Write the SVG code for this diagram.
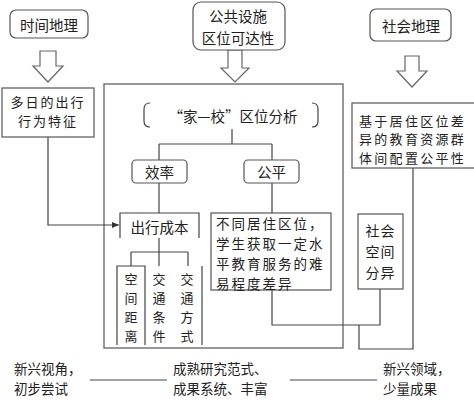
<svg xmlns="http://www.w3.org/2000/svg" width="474" height="404" viewBox="0 0 474 404">
<style>
.t{font-family:"Noto Sans CJK SC","Noto Sans CJK JP",sans-serif;font-size:14.5px;fill:#222;dominant-baseline:central}
.c{text-anchor:middle}
.s{font-size:13.5px;letter-spacing:2px}
.v{font-size:13px}
.b{fill:#fff;stroke:#555;stroke-width:1.2}
.l{fill:none;stroke:#444;stroke-width:1.2}
.ha{fill:#fff;stroke:#666;stroke-width:1.2}
</style>
<defs>
<marker id="ar" viewBox="0 0 8 8" refX="8" refY="4" markerWidth="7" markerHeight="7" orient="auto" markerUnits="userSpaceOnUse">
<path d="M0,0.5 L8,4 L0,7.5 Z" fill="#333"/>
</marker>
</defs>
<rect x="0" y="0" width="474" height="404" fill="#fff"/>

<g id="main-frame">
<rect class="b" x="104" y="84" width="239" height="264" fill="none"/>
</g>

<g id="connectors">
<polygon class="ha" points="40,51 56,51 56,66 63,66 48,82 33,66 40,66"/>
<polygon class="ha" points="228,50 242,50 242,68 249,68 235,82 221,68 228,68"/>
<polygon class="ha" points="405,56 419,56 419,71 427,71 412,87 397,71 405,71"/>
<path class="l" d="M232,129 V144 M159,144 H272 M159,144 V160 M272,144 V160"/>
<path class="l" d="M159,183 V213 M272,183 V213"/>
<path class="l" d="M48,137 V225 H119" marker-end="url(#ar)"/>
<path class="l" d="M159,238 V266 M131,252 H188 M188,252 V266 M131,252 V266"/>
<path class="l" d="M272,290 V325 H380 V289"/>
<path class="l" d="M359,325 V349 H413 V168"/>
<path class="l" d="M90,380 H167 M290,380 H377"/>
</g>

<g id="n-shijian">
<rect class="b" x="10" y="10" width="78" height="28" rx="6"/>
<text class="t c" x="49" y="24">时间地理</text>
</g>
<g id="n-gonggong">
<rect class="b" x="193" y="2" width="92" height="48" rx="8"/>
<text class="t c" x="238" y="15">公共设施</text>
<text class="t c" x="238" y="37">区位可达性</text>
</g>
<g id="n-shehui">
<rect class="b" x="370" y="9" width="81" height="32" rx="6"/>
<text class="t c" x="411" y="25">社会地理</text>
</g>
<g id="n-duori">
<rect class="b" x="2" y="88" width="92" height="49"/>
<text class="t c v" x="48" y="101" style="letter-spacing:2px">多日的出行</text>
<text class="t c v" x="48" y="120" style="letter-spacing:2px">行为特征</text>
</g>
<g id="n-jiyu">
<rect class="b" x="352" y="103" width="130" height="65"/>
<text class="t v" x="359" y="120" style="letter-spacing:2.3px">基于居住区位差</text>
<text class="t v" x="359" y="138.5" style="letter-spacing:2.3px">异的教育资源群</text>
<text class="t v" x="359" y="157" style="letter-spacing:2.3px">体间配置公平性</text>
</g>
<g id="n-jiaxiao">
<path class="l" d="M150,103 Q144,103 144,109 V121 Q144,127 150,127"/>
<path class="l" d="M312,103 Q318,103 318,109 V121 Q318,127 312,127"/>
<text class="t c" x="233" y="115">“家—校”区位分析</text>
</g>
<g id="n-xiaolv">
<rect class="b" x="132" y="160" width="55" height="23" rx="4"/>
<text class="t c" x="159.5" y="171.5">效率</text>
</g>
<g id="n-gongping">
<rect class="b" x="244" y="160" width="55" height="23" rx="4"/>
<text class="t c" x="271.5" y="171.5">公平</text>
</g>
<g id="n-chuxing">
<path class="l" d="M120,238 V213 H199 V238"/>
<text class="t c" x="159.5" y="226">出行成本</text>
</g>
<g id="n-table">
<path class="l" d="M117,345 V266 H145 V345 M202,266 V345"/>
<text class="t c v" x="131" y="278">空</text><text class="t c v" x="131" y="297">间</text><text class="t c v" x="131" y="316">距</text><text class="t c v" x="131" y="335">离</text>
<text class="t c v" x="159" y="278">交</text><text class="t c v" x="159" y="297">通</text><text class="t c v" x="159" y="316">条</text><text class="t c v" x="159" y="335">件</text>
<text class="t c v" x="187" y="278">交</text><text class="t c v" x="187" y="297">通</text><text class="t c v" x="187" y="316">方</text><text class="t c v" x="187" y="335">式</text>
</g>
<g id="n-butong">
<rect class="b" x="211" y="213" width="120" height="77"/>
<text class="t s" x="216" y="223">不同居住区位，</text>
<text class="t s" x="216" y="243">学生获取一定水</text>
<text class="t s" x="216" y="263">平教育服务的难</text>
<text class="t s" x="216" y="283">易程度差异</text>
</g>
<g id="n-fenyi">
<rect class="b" x="358" y="214" width="45" height="75"/>
<text class="t c" x="380.5" y="230" style="font-size:14px;letter-spacing:1px">社会</text>
<text class="t c" x="380.5" y="251" style="font-size:14px;letter-spacing:1px">空间</text>
<text class="t c" x="380.5" y="272" style="font-size:14px;letter-spacing:1px">分异</text>
</g>
<g id="n-bottom">
<text class="t" x="14" y="368" style="font-size:13.5px">新兴视角，</text>
<text class="t" x="14" y="388" style="font-size:13.5px">初步尝试</text>
<text class="t" x="173" y="368" style="font-size:13.5px">成熟研究范式、</text>
<text class="t" x="173" y="388" style="font-size:13.5px">成果系统、丰富</text>
<text class="t" x="383" y="368" style="font-size:13.5px">新兴领域，</text>
<text class="t" x="383" y="388" style="font-size:13.5px">少量成果</text>
</g>
</svg>
